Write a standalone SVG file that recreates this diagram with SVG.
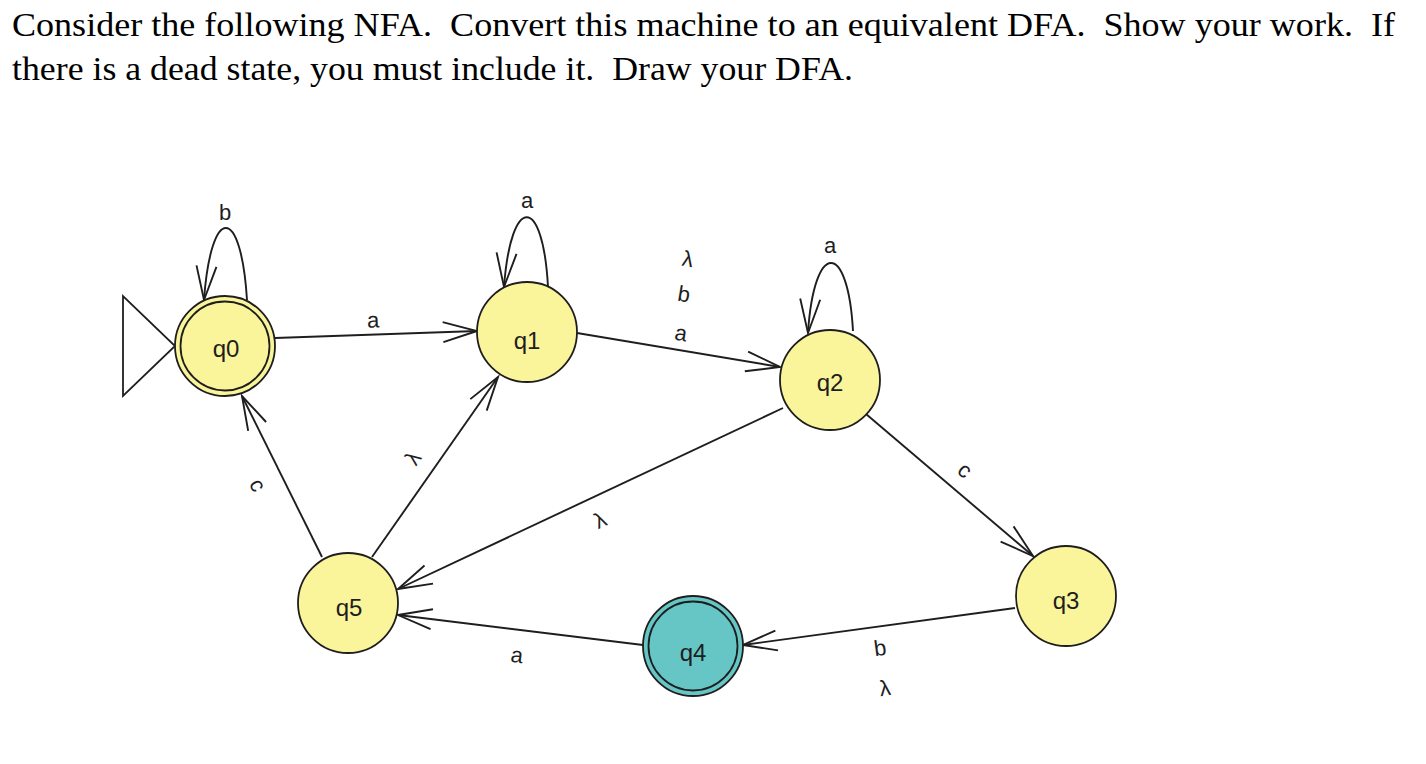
<svg xmlns="http://www.w3.org/2000/svg" width="1426" height="764" viewBox="0 0 1426 764">
<style>
.hdr{font-family:"Liberation Serif","Times New Roman",serif;font-size:34px;fill:#000}
.st{stroke:#1e1e1e;stroke-width:1.8}
.yel{fill:#FAF59B}
.teal{fill:#66C6C6}
.nl{font-family:"Liberation Sans",Arial,sans-serif;font-size:24px;fill:#1e1e1e;text-anchor:middle;dominant-baseline:central}
.el{font-family:"Liberation Sans",Arial,sans-serif;font-size:22px;fill:#1e1e1e;text-anchor:middle;dominant-baseline:central}
.edge{fill:none;stroke:#1e1e1e;stroke-width:1.9;marker-end:url(#arr)}
</style>
<defs>
<marker id="arr" markerUnits="userSpaceOnUse" viewBox="-36 -12 38 24" refX="0" refY="0" markerWidth="38" markerHeight="24" orient="auto" overflow="visible">
<path d="M -34 -10 L 0 0 L -34 10" fill="none" stroke="#1e1e1e" stroke-width="1.9"/>
</marker>
</defs>
<rect width="1426" height="764" fill="#fff"/>
<g id="header">
<text class="hdr" x="12" y="36" textLength="1383" lengthAdjust="spacingAndGlyphs" xml:space="preserve">Consider the following NFA.  Convert this machine to an equivalent DFA.  Show your work.  If</text>
<text class="hdr" x="12" y="80" textLength="841" lengthAdjust="spacingAndGlyphs" xml:space="preserve">there is a dead state, you must include it.  Draw your DFA.</text>
</g>
<g id="connectors">
<path class="edge" d="M 247 300 C 241 204, 211 204, 204 300"/>
<path class="edge" d="M 548 287 C 543 194, 511 194, 504 287"/>
<path class="edge" d="M 853 331 C 848 240, 814 240, 808 333"/>
<path class="edge" d="M 275 338 L 477 331"/>
<path class="edge" d="M 577 333 L 780 367"/>
<path class="edge" d="M 322 557 L 242 396"/>
<path class="edge" d="M 372 557 L 498 377"/>
<path class="edge" d="M 783 408 L 398 589"/>
<path class="edge" d="M 866 414 L 1033 556"/>
<path class="edge" d="M 1015 608 L 743 645"/>
<path class="edge" d="M 643 645 L 398 615"/>
<text class="el" x="225" y="212">b</text>
<text class="el" x="527" y="200">a</text>
<text class="el" x="830" y="245">a</text>
<text class="el" x="373" y="320" transform="rotate(-2 373 320)">a</text>
<text class="el" x="681" y="333" transform="rotate(9.5 681 333)">a</text>
<text class="el" x="684" y="294" transform="rotate(9.5 684 294)">b</text>
<text class="el" x="688" y="259" transform="rotate(9.5 688 259)">λ</text>
<text class="el" x="258" y="485" transform="rotate(63.6 258 485)">c</text>
<text class="el" x="413" y="458" transform="rotate(-55 413 458)">λ</text>
<text class="el" x="600" y="520" transform="rotate(-25.2 600 520)">λ</text>
<text class="el" x="965" y="470" transform="rotate(40.4 965 470)">c</text>
<text class="el" x="880" y="648" transform="rotate(-7.7 880 648)">b</text>
<text class="el" x="885" y="688" transform="rotate(-7.7 885 688)">λ</text>
<text class="el" x="517" y="655" transform="rotate(7 517 655)">a</text>
</g>
<g id="start">
<polygon points="123,296 123,396 175,346" fill="#fff" class="st"/>
</g>
<g id="q0">
<circle cx="225" cy="346" r="50" class="yel st"/>
<circle cx="225" cy="346" r="44.5" fill="none" class="st"/>
<text class="nl" x="226" y="348">q0</text>
</g>
<g id="q1">
<circle cx="527" cy="332" r="50" class="yel st"/>
<text class="nl" x="527" y="340">q1</text>
</g>
<g id="q2">
<circle cx="830" cy="380" r="50" class="yel st"/>
<text class="nl" x="830" y="382">q2</text>
</g>
<g id="q3">
<circle cx="1066" cy="596" r="50" class="yel st"/>
<text class="nl" x="1066" y="600">q3</text>
</g>
<g id="q4">
<circle cx="693" cy="646" r="50" class="teal st"/>
<circle cx="693" cy="646" r="44.5" fill="none" class="st"/>
<text class="nl" x="693" y="652">q4</text>
</g>
<g id="q5">
<circle cx="348" cy="603" r="50" class="yel st"/>
<text class="nl" x="349" y="607">q5</text>
</g>
</svg>
